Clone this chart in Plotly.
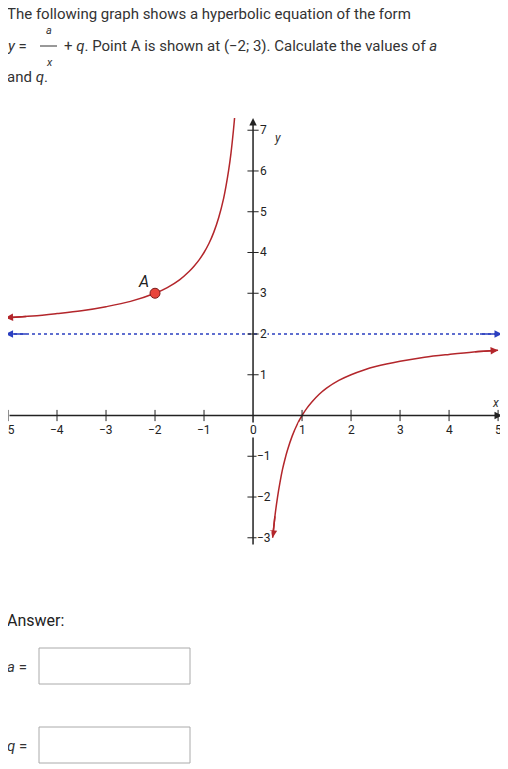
import plotly.graph_objects as go

# values
left_x = [-5, -4.5, -4, -3.5, -3, -2.5, -2, -1.75, -1.5, -1.3, -1.2, -1.1, -1, -0.9, -0.8, -0.7,
          -0.6, -0.55, -0.5, -0.45, -0.4, -0.37, -0.34]
left_y = [2.4, 2.44, 2.5, 2.57, 2.67, 2.8, 3.0, 3.14, 3.33, 3.54, 3.67, 3.82, 4.0, 4.22, 4.5, 4.86,
          5.33, 5.64, 6.0, 6.44, 7.0, 7.4, 7.88]
right_x = [0.4, 0.45, 0.5, 0.55, 0.6, 0.65, 0.7, 0.8, 0.9, 1.0, 1.1, 1.2, 1.35, 1.5, 1.75, 2,
           2.25, 2.5, 3, 3.5, 4, 4.5, 5]
right_y = [-3.0, -2.44, -2.0, -1.64, -1.33, -1.08, -0.86, -0.5, -0.22, 0.0, 0.18, 0.33, 0.52, 0.67,
           0.86, 1.0, 1.11, 1.2, 1.33, 1.43, 1.5, 1.56, 1.6]
point_a = (-2, 3)
asymptote_y = 2
x_ticks = [-5, -4, -3, -2, -1, 1, 2, 3, 4, 5]
y_ticks = [-3, -2, -1, 1, 2, 3, 4, 5, 6, 7]

RED = "#b3262b"
BLUE = "#2b3fc0"
FONT = "Roboto, Arial, sans-serif"

fig = go.Figure()
fig.add_trace(go.Scatter(x=left_x, y=left_y, mode="lines", line=dict(color=RED, width=1.5, shape="spline"),
                         hoverinfo="skip"))
fig.add_trace(go.Scatter(x=right_x, y=right_y, mode="lines", line=dict(color=RED, width=1.5, shape="spline"),
                         hoverinfo="skip"))
fig.add_trace(go.Scatter(x=[-5.0, 5.05], y=[asymptote_y] * 2, mode="lines",
                         line=dict(color=BLUE, width=1.5, dash="3px,3px"), hoverinfo="skip"))
fig.add_trace(go.Scatter(x=x_ticks, y=[0] * len(x_ticks), mode="markers",
                         marker=dict(symbol="line-ns", size=8, line=dict(color="#222", width=1))))
fig.add_trace(go.Scatter(x=[0] * len(y_ticks), y=y_ticks, mode="markers",
                         marker=dict(symbol="line-ew", size=8, line=dict(color="#222", width=1))))
fig.add_trace(go.Scatter(x=[point_a[0]], y=[point_a[1]], mode="markers",
                         marker=dict(size=10, color="#e8453c", line=dict(color="#7a1c1c", width=1))))

ann = []
def arrow(x, y, ax, ay, color):
    ann.append(dict(x=x, y=y, ax=ax, ay=ay, xref="x", yref="y", axref="x", ayref="y",
                    showarrow=True, arrowhead=2, arrowsize=1, arrowwidth=1.5, arrowcolor=color, text=""))

arrow(5.08, 0, -5.0, 0, "#222")
arrow(0, 7.3, 0, -3.2, "#222")
arrow(-5.05, 2.4, -4.6, 2.43, RED)
arrow(5.0, 1.6, 4.5, 1.56, RED)
arrow(0.4, -3.0, 0.45, -2.44, RED)
arrow(-5.05, 2, -4.6, 2, BLUE)
arrow(5.08, 2, 4.6, 2, BLUE)

def txt(x, y, s, size=15, xa="left", xr="paper", yr="paper", color="#333", bg=None):
    ann.append(dict(x=x, y=y, xref=xr, yref=yr, text=s, showarrow=False, xanchor=xa,
                    yanchor="middle", bgcolor=bg, borderpad=0,
                    font=dict(family=FONT, size=size, color=color)))

for v in x_ticks + [0]:
    txt(v, -0.35, str(v).replace("-", "−"), size=12, xa="center", xr="x", yr="y", color="#222", bg="white")
for v in y_ticks:
    txt(0.22, v, str(v).replace("-", "−"), size=12, xa="center", xr="x", yr="y", color="#222", bg="white")

def px(p):
    return (p - 8) / 494

def py(p):
    return (550 - p) / 432

txt(px(6), py(14), "The following graph shows a hyperbolic equation of the form")
txt(px(6), py(46), "<i>y</i> =")
txt(px(45), py(30), "<i>a</i>", size=11)
txt(px(45), py(62), "<i>x</i>", size=11)
txt(px(63), py(46), "+ <i>q</i>. Point A is shown at (−2; 3). Calculate the values of <i>a</i>")
txt(px(6), py(77), "and <i>q</i>.")
txt(px(6), py(620), "Answer:", size=16, color="#222")
txt(px(6), py(667), "<i>a</i> =")
txt(px(6), py(746), "<i>q</i> =")
txt(-2.1, 3.3, "<i>A</i>", xr="x", yr="y", size=16, xa="right", color="#222")
txt(0.4, 6.8, "<i>y</i>", xr="x", yr="y", size=12)
txt(4.85, 0.3, "<i>x</i>", xr="x", yr="y", size=12)

shapes = [
    dict(type="line", xref="paper", yref="paper", x0=px(40), x1=px(57), y0=py(46), y1=py(46),
         line=dict(color="#333", width=1)),
    dict(type="rect", xref="paper", yref="paper", x0=px(39), x1=px(190), y0=py(648), y1=py(684),
         line=dict(color="#aaa", width=1), fillcolor="white"),
    dict(type="rect", xref="paper", yref="paper", x0=px(39), x1=px(190), y0=py(727), y1=py(763),
         line=dict(color="#aaa", width=1), fillcolor="white"),
]

fig.update_layout(
    width=500, height=761, showlegend=False, plot_bgcolor="white", paper_bgcolor="white",
    margin=dict(l=0, r=6, t=110, b=219),
    xaxis=dict(range=[-5.0, 5.08], visible=False, fixedrange=True),
    yaxis=dict(range=[-3.3, 7.3], visible=False, fixedrange=True),
    annotations=ann, shapes=shapes,
)
fig.write_html("out.html")
